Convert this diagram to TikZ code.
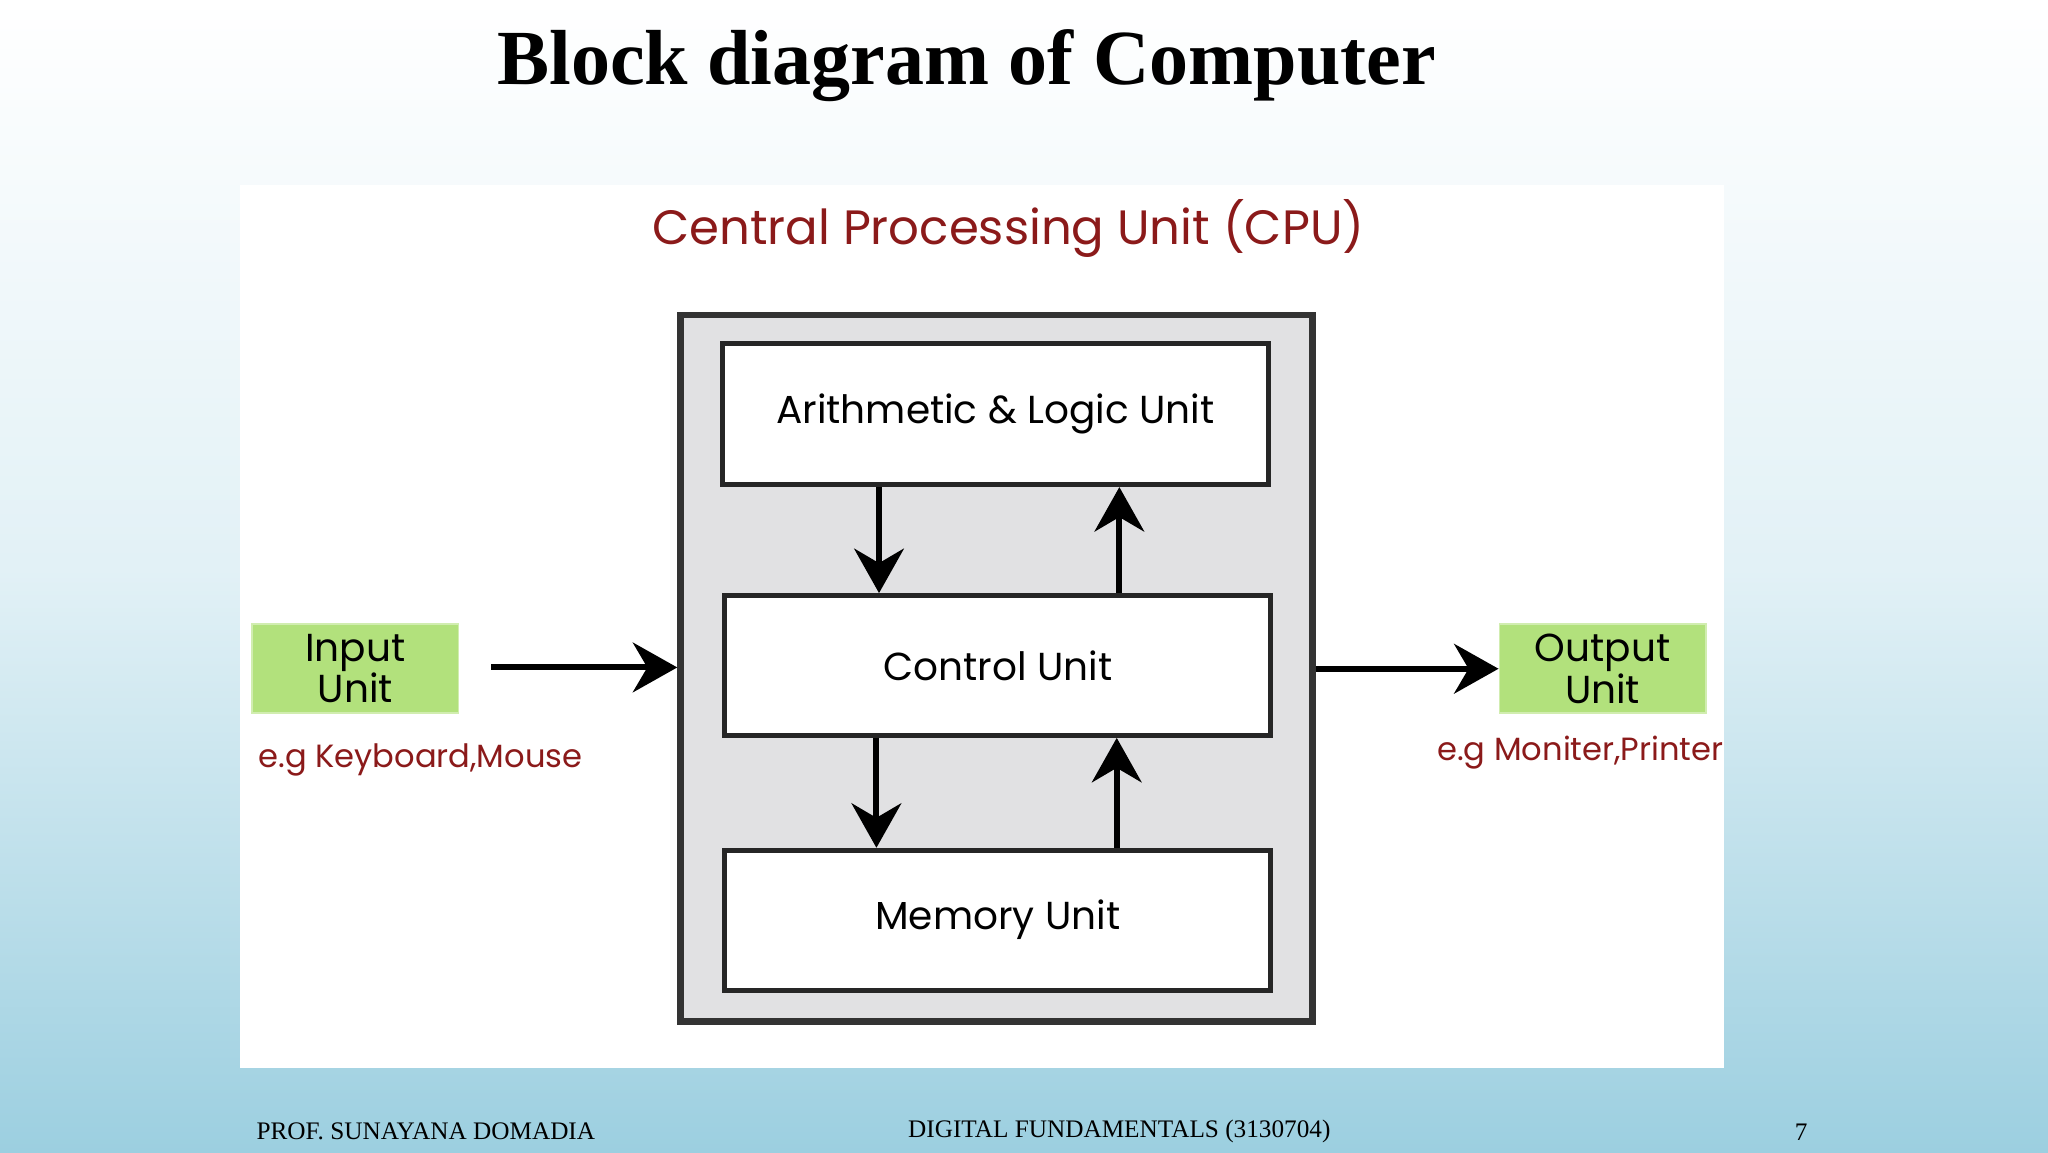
\documentclass[tikz,border=0pt]{standalone}
\usepackage{fontspec}
\setmainfont{Liberation Serif}
\newfontfamily\gothic{Poppins}
\usetikzlibrary{arrows.meta,positioning}
\definecolor{cpured}{HTML}{8B1A1A}
\definecolor{unitgreen}{HTML}{B2E17C}
\definecolor{cpugray}{HTML}{E1E1E3}
\definecolor{skyblue}{HTML}{9CCFE0}
\tikzset{
  unit/.style={draw=black!85, line width=1.1pt, fill=white, font=\gothic\fontsize{8.5}{10}\selectfont},
  io/.style={fill=unitgreen, draw=unitgreen!60!white, align=center, inner sep=0pt,
             minimum width=1.58cm, minimum height=0.68cm, font=\gothic\fontsize{8.5}{9}\selectfont},
  flow/.style={line width=1.3pt, -{Stealth[length=3.4mm,width=3.8mm]}},
  example/.style={text=cpured, font=\gothic\fontsize{7}{8}\selectfont},
  footer/.style={font=\fontsize{5.5}{6}\selectfont}
}
\begin{document}
\begin{tikzpicture}
%\draw [lightgray](0,0) grid (15.68,8.82);
\shade [top color=white, bottom color=skyblue, middle color=white!70!skyblue] (0,0) rectangle (15.68,8.82);
\useasboundingbox (0,0) rectangle (15.68,8.82);
\fill [white] (1.84,0.64) rectangle (13.20,7.40); % panel

\node (title) at (7.40,8.32) {\bfseries\fontsize{17}{20}\selectfont Block diagram of Computer};
\node [text=cpured, font=\gothic\fontsize{10.5}{12}\selectfont] (cputitle) at (7.72,7.07) {Central Processing Unit (CPU)};

\node [draw=black!80, line width=1.4pt, fill=cpugray, minimum width=4.84cm, minimum height=5.41cm] (cpu) at (7.63,3.705) {}; % CPU
\node [unit, minimum width=4.18cm, minimum height=1.08cm] (alu) at (7.62,5.65) {Arithmetic \& Logic Unit};
\node [unit, minimum width=4.18cm, minimum height=1.07cm] (cu) at (7.64,3.725) {Control Unit};
\node [unit, minimum width=4.18cm, minimum height=1.07cm] (mu) at (7.64,1.775) {Memory Unit};

\coordinate (down1) at (6.73,0);
\coordinate (up1) at (8.57,0);
\coordinate (down2) at (6.71,0);
\coordinate (up2) at (8.55,0);
\draw [flow] (alu.south -| down1) -- (cu.north -| down1);
\draw [flow] (cu.north -| up1) -- (alu.south -| up1);
\draw [flow] (cu.south -| down2) -- (mu.north -| down2);
\draw [flow] (mu.north -| up2) -- (cu.south -| up2);

\node [io] (input) at (2.72,3.70) {Input\\Unit};
\node [example] (inputeg) at (3.22,3.00) {e.g Keyboard,Mouse};
\coordinate (instart) at (3.76,3.71);
\draw [flow] (instart) -- (instart -| cpu.west);

\node [io] (output) at (12.27,3.70) {Output\\Unit};
\node [example] (outputeg) at (12.10,3.06) {e.g Moniter,Printer};
\draw [flow] (cpu.east |- output) -- (output.west);

\node [footer, anchor=west] (author) at (1.84,0.16) {PROF. SUNAYANA DOMADIA};
\node [footer] (subject) at (8.57,0.16) {DIGITAL FUNDAMENTALS (3130704)};
\node [footer] (page) at (13.79,0.15) {7};
\end{tikzpicture}
\end{document}
